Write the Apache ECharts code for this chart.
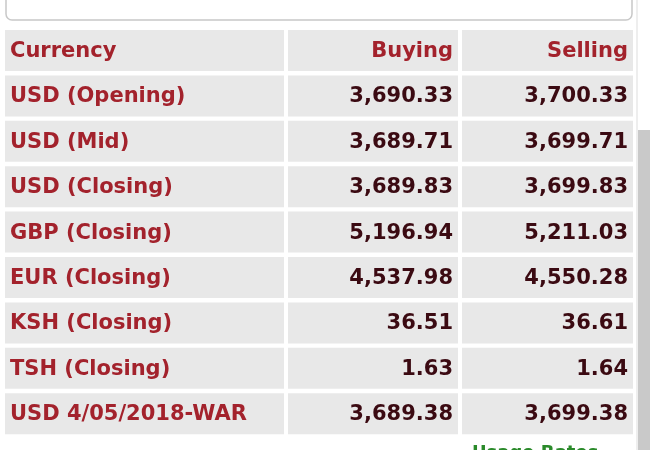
<!DOCTYPE html>
<html><head><meta charset="utf-8">
<script src="https://cdn.jsdelivr.net/npm/echarts@6/dist/echarts.min.js"></script>
<style>html,body{margin:0;padding:0;background:#fff}#c{width:650px;height:450px}</style>
</head><body><div id="c"></div>
<script>
const headers = ['Currency', 'Buying', 'Selling'];
const currencies = ['USD (Opening)', 'USD (Mid)', 'USD (Closing)', 'GBP (Closing)', 'EUR (Closing)', 'KSH (Closing)', 'TSH (Closing)', 'USD 4/05/2018-WAR'];
const buying = ['3,690.33', '3,689.71', '3,689.83', '5,196.94', '4,537.98', '36.51', '1.63', '3,689.38'];
const selling = ['3,700.33', '3,699.71', '3,699.83', '5,211.03', '4,550.28', '36.61', '1.64', '3,699.38'];

const chart = echarts.init(document.getElementById('c'), null, {renderer:'canvas'});
const cols = [{x:5,w:279,align:'left'},{x:288,w:170,align:'right'},{x:462,w:171,align:'right'}];
const top0 = 30, stride = 45.4, rh = 41;
const font = '"DejaVu Sans", Verdana, sans-serif';
const els = [];
els.push({type:'rect', shape:{x:6,y:-20,width:626,height:40,r:6}, style:{fill:'#fff',stroke:'#c8c8c8',lineWidth:1.5}});
els.push({type:'rect', shape:{x:638,y:130,width:12,height:320}, style:{fill:'#c9c9c9'}});
els.push({type:'rect', shape:{x:636,y:0,width:2,height:450}, style:{fill:'#eee'}});
const rows = [headers].concat(currencies.map((c,i)=>[c,buying[i],selling[i]]));
rows.forEach((r,ri)=>{
  const y = top0 + ri*stride;
  r.forEach((t,ci)=>{
    const c = cols[ci];
    els.push({type:'rect', shape:{x:c.x,y:y,width:c.w,height:rh}, style:{fill:'#e8e8e8'}});
    const red = ri===0 || ci===0;
    els.push({type:'text', x: c.align==='left' ? c.x+5 : c.x+c.w-5, y: y+rh/2+1,
      style:{text:t, fill: red ? '#a3222c' : '#3b0a12', font:'bold 21px '+font,
        textAlign:c.align, textVerticalAlign:'middle'}});
  });
});
els.push({type:'text', x:472, y:462, style:{text:'Usage Rates', fill:'#2a8a2a', font:'bold 18px '+font, textVerticalAlign:'bottom'}});
chart.setOption({graphic:{elements:els}});
</script></body></html>
